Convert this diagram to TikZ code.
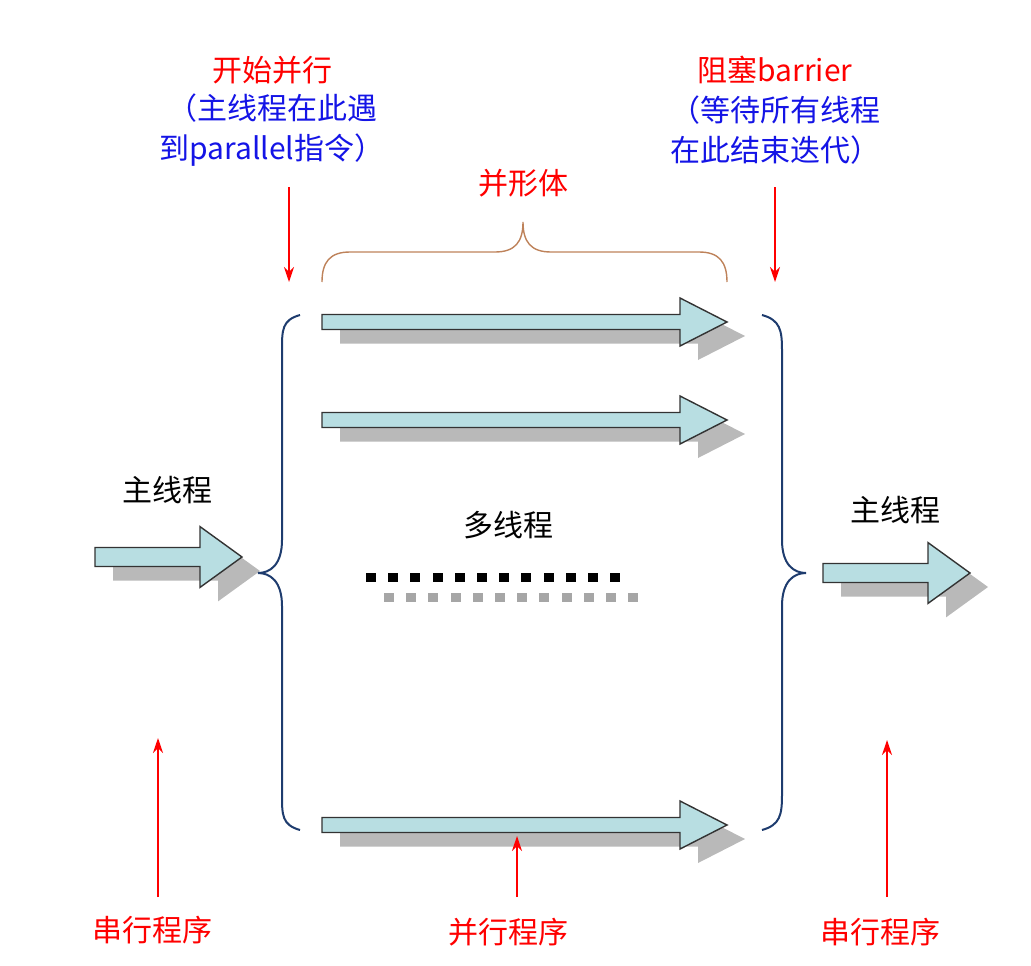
\documentclass[tikz,border=0pt]{standalone}
\usepackage{fontspec}
\setmainfont{Noto Sans CJK SC}
\usetikzlibrary{arrows.meta}
\definecolor{cyanf}{RGB}{184,222,226}
\definecolor{braceb}{RGB}{30,60,110}
\definecolor{braceo}{RGB}{190,130,90}
\definecolor{tblue}{RGB}{20,20,230}
\begin{document}
\begin{tikzpicture}[x=1pt,y=-1pt,
  lbl/.style={font=\fontsize{30}{40}\selectfont, align=center, inner sep=0pt},
  redarr/.style={red,line width=1.3pt,-{Stealth[length=15pt,width=10pt]}}]
\useasboundingbox (0,0) rectangle (1031,966);
\newcommand{\fatarrow}[5]{% x0, xh, xt, yc, shaft height
  \fill[gray!55] ({#1+18},{#4-#5/2+14}) -- ({#2+18},{#4-#5/2+14}) -- ({#2+18},{#4-#5*1.6+14}) -- ({#3+18},{#4+14}) -- ({#2+18},{#4+#5*1.6+14}) -- ({#2+18},{#4+#5/2+14}) -- ({#1+18},{#4+#5/2+14}) -- cycle;
  \filldraw[fill=cyanf,draw=black!80,line width=1.4pt] (#1,{#4-#5/2}) -- (#2,{#4-#5/2}) -- (#2,{#4-#5*1.6}) -- (#3,#4) -- (#2,{#4+#5*1.6}) -- (#2,{#4+#5/2}) -- (#1,{#4+#5/2}) -- cycle;}
\fatarrow{322}{680}{727}{322}{15}
\fatarrow{322}{680}{727}{420}{15}
\fatarrow{322}{680}{727}{825}{15}
\fatarrow{95}{200}{242}{557}{19}
\fatarrow{823}{928}{970}{573}{19}
% braces
\draw[braceb,line width=2pt] (300,315) .. controls (282,320) and (282,330) .. (282,350) -- (282,540) .. controls (282,565) and (270,573) .. (258,573) .. controls (270,573) and (282,581) .. (282,606) -- (282,795) .. controls (282,815) and (282,825) .. (300,830);
\draw[braceb,line width=2pt] (762,315) .. controls (780,320) and (782,330) .. (782,350) -- (782,540) .. controls (782,565) and (794,573) .. (806,573) .. controls (794,573) and (782,581) .. (782,606) -- (782,795) .. controls (782,815) and (780,825) .. (762,830);
\draw[braceo,line width=1.4pt] (322,282) .. controls (322,262) and (330,252) .. (350,252) -- (495,252) .. controls (515,252) and (523,242) .. (523,222) .. controls (523,242) and (531,252) .. (551,252) -- (699,252) .. controls (719,252) and (727,262) .. (727,282);
% dots
\foreach \i in {0,...,11} {
  \fill[black] ({366+\i*22.2},573) rectangle ++(10,9);
  \fill[gray!70] ({384+\i*22.2},593) rectangle ++(10,9);
}
% texts
\node[lbl,red] (t1) at (272,70) {开始并行};
\node[lbl,tblue] (t2) at (272,130) {（主线程在此遇\\到parallel指令）};
\node[lbl,red] (t3) at (775,70) {阻塞barrier};
\node[lbl,tblue] (t4) at (775,130) {（等待所有线程\\在此结束迭代）};
\node[lbl,red] (bt) at (523,183) {并形体};
\node[lbl] (m1) at (167,490) {主线程};
\node[lbl] (m2) at (895,510) {主线程};
\node[lbl] (mt) at (508,525) {多线程};
\node[lbl,red] (s1) at (152,930) {串行程序};
\node[lbl,red] (s2) at (508,932) {并行程序};
\node[lbl,red] (s3) at (880,932) {串行程序};
\coordinate (a1s) at (289,187); \coordinate (a1e) at (289,282);
\coordinate (a2s) at (775,187); \coordinate (a2e) at (775,282);
\coordinate (u1s) at (158,897); \coordinate (u1e) at (158,738);
\coordinate (u2s) at (517,897); \coordinate (u2e) at (517,836);
\coordinate (u3s) at (887,897); \coordinate (u3e) at (887,740);
\draw[redarr] (a1s) -- (a1e);
\draw[redarr] (a2s) -- (a2e);
\draw[redarr] (u1s) -- (u1e);
\draw[redarr] (u2s) -- (u2e);
\draw[redarr] (u3s) -- (u3e);
\end{tikzpicture}
\end{document}
